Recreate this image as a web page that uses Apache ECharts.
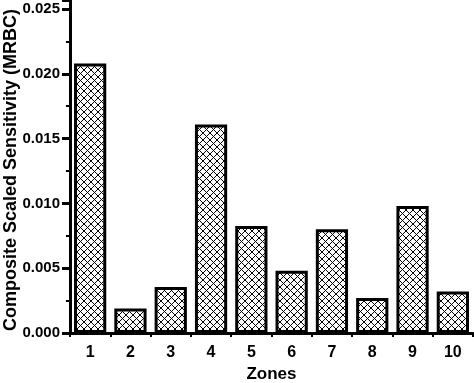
<!DOCTYPE html>
<html>
<head>
<meta charset="utf-8">
<script src="https://cdn.jsdelivr.net/npm/echarts@6/dist/echarts.min.js"></script>
<style>html,body{margin:0;padding:0;background:#fff;}#c{width:474px;height:383px;}</style>
</head>
<body>
<div id="c"></div>
<script>
var zones = ['1','2','3','4','5','6','7','8','9','10'];
var sensitivity = [0.0208, 0.0019, 0.00355, 0.0161, 0.00825, 0.0048, 0.0080, 0.0027, 0.0098, 0.0032];
var yTicks = [0, 0.005, 0.010, 0.015, 0.020, 0.025];
var yTitle = 'Composite Scaled Sensitivity (MRBC)';
var xTitle = 'Zones';

function hatch() {
  var s = 7;
  var c = document.createElement('canvas');
  c.width = s; c.height = s;
  var g = c.getContext('2d');
  g.fillStyle = '#fff';
  g.fillRect(0, 0, s, s);
  g.strokeStyle = '#000';
  g.lineWidth = 1;
  g.beginPath();
  g.moveTo(0, 0); g.lineTo(s, s);
  g.moveTo(0, s); g.lineTo(s, 0);
  g.stroke();
  return c;
}

var chart = echarts.init(document.getElementById('c'));
var font = 'Liberation Sans, Arial, sans-serif';
chart.setOption({
  animation: false,
  grid: {left: 70, right: 1, top: 0, bottom: 50, containLabel: false, outerBoundsMode: 'none'},
  graphic: [{
    type: 'text',
    x: 11,
    y: 170,
    rotation: Math.PI / 2,
    style: {text: yTitle, align: 'center', verticalAlign: 'middle', fontFamily: font, fontWeight: 'bold', fontSize: 18, fill: '#000'}
  }],
  xAxis: [{
    type: 'category',
    data: zones,
    name: xTitle,
    nameLocation: 'middle',
    nameGap: 33,
    nameMoveOverlap: false,
    nameTextStyle: {fontFamily: font, fontWeight: 'bold', fontSize: 17, color: '#000'},
    axisLine: {lineStyle: {color: '#000', width: 3}},
    axisTick: {alignWithLabel: true, length: 7, lineStyle: {color: '#000', width: 3}},
    axisLabel: {margin: 12, fontFamily: font, fontWeight: 'bold', fontSize: 16, color: '#000'}
  }, {
    type: 'category',
    data: zones,
    position: 'bottom',
    axisLine: {show: false},
    axisTick: {show: true, length: 4, lineStyle: {color: '#000', width: 2}},
    axisLabel: {show: false}
  }],
  yAxis: {
    type: 'value',
    min: 0,
    max: 0.0257,
    interval: 0.005,
    axisLine: {show: true, lineStyle: {color: '#000', width: 3}},
    axisTick: {show: true, length: 8, lineStyle: {color: '#000', width: 3}},
    minorTick: {show: true, splitNumber: 2, length: 4, lineStyle: {color: '#000', width: 2}},
    splitLine: {show: false},
    axisLabel: {
      margin: 10, fontFamily: font, fontWeight: 'bold', fontSize: 15, color: '#000',
      showMaxLabel: false,
      formatter: function (v) {
        for (var i = 0; i < yTicks.length; i++) {
          if (Math.abs(v - yTicks[i]) < 1e-9) return yTicks[i].toFixed(3);
        }
        return '';
      }
    }
  },
  series: [{
    type: 'bar',
    data: sensitivity,
    barWidth: '80%',
    itemStyle: {
      color: {image: hatch(), repeat: 'repeat'},
      borderColor: '#000',
      borderWidth: 3
    }
  }]
});
</script>
</body>
</html>
